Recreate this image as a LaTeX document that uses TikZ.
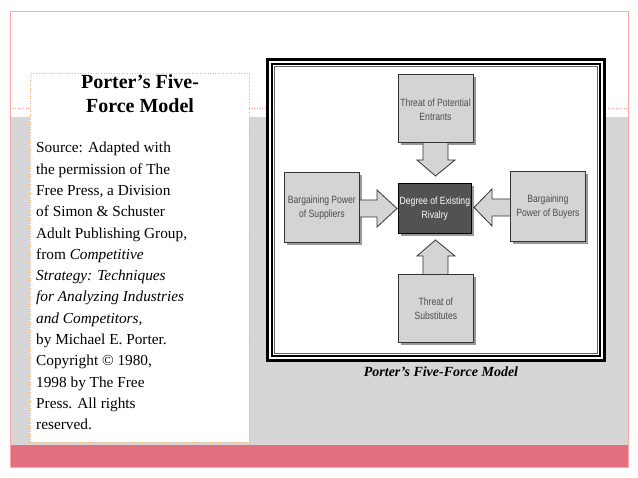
\documentclass[tikz,border=0pt]{standalone}
\usepackage{fontspec}
\setmainfont{Liberation Serif}
\newfontfamily\diagfont[FakeStretch=0.82]{Liberation Sans}
\definecolor{pinkbar}{RGB}{226,110,126}
\begin{document}
\begin{tikzpicture}[x=1pt,y=-1pt,
  fbox/.style={draw=black!80,fill=black!17,line width=0.8pt},
  shadowc/.style={fill=black!40},
  lbl/.style={font=\diagfont\fontsize{10.5}{14}\selectfont,text=black!70,align=center},
  body/.style={font=\fontsize{15.3}{21.3}\selectfont,align=left,anchor=north west,inner sep=0pt}]
\useasboundingbox (0,0) rectangle (638,478);
\fill[white] (0,0) rectangle (638,478);
% slide frame
\fill[black!16] (10,117) rectangle (628,445);
\fill[pinkbar] (10,445) rectangle (628,467);
\draw[red!35,line width=0.6pt] (10,11) rectangle (628,467);
\draw[red!40,dotted,line width=0.6pt] (10,108) -- (628,108);
% left text box
\node[draw=orange!60,dotted,fill=white,line width=0.6pt,minimum width=219pt,minimum height=369pt,anchor=north west,inner sep=0pt] (tb) at (30,73) {};
\node[font=\bfseries\fontsize{20}{24}\selectfont,align=center] (title) at (140,94) {Porter’s Five-\\Force Model};
\node[body] (src) at (36,142) {Source: Adapted with\\the permission of The\\Free Press, a Division\\of Simon \& Schuster\\Adult Publishing Group,\\from \emph{Competitive}\\\emph{Strategy: Techniques}\\\emph{for Analyzing Industries}\\\emph{and Competitors,}\\by Michael E. Porter.\\Copyright © 1980,\\1998 by The Free\\Press. All rights\\reserved.};
% diagram frame
\fill[white] (266,58) rectangle (606,362);
\draw[line width=3pt] (267.5,59.5) rectangle (604.5,360.5);
\draw[line width=1.2pt] (272,64) rectangle (600,356);
\draw[line width=0.5pt,black!60] (274.5,66.5) rectangle (597.5,353.5);
% shadows
\foreach \a/\b/\c/\d in {398/74/473/142, 284/172/359/242, 510/171/585/241, 398/274/473/342, 398/183/471/233}
  \fill[shadowc] (\a+3,\b+3) rectangle (\c+3,\d+3);
% arrows (drawn before boxes)
\draw[fbox] (423,141) -- (423,160) -- (417,160) -- (435.5,176) -- (455,160) -- (448,160) -- (448,141);
\draw[fbox] (423,275) -- (423,256) -- (417,256) -- (435.5,240) -- (455,256) -- (448,256) -- (448,275);
\draw[fbox] (358,200) -- (377,200) -- (377,190) -- (397,208.5) -- (377,227) -- (377,217) -- (358,217);
\draw[fbox] (511,199) -- (492,199) -- (492,189) -- (474,207.5) -- (492,226) -- (492,216) -- (511,216);
% boxes
\node[fbox,minimum width=75pt,minimum height=68pt,anchor=north west,inner sep=0pt] (top) at (398,74) {};
\node[lbl] (toplbl) at (435.5,110) {Threat of Potential\\Entrants};
\node[fbox,lbl,minimum width=75pt,minimum height=70pt,anchor=north west,inner sep=0pt] (sup) at (284,172) {Bargaining Power\\of Suppliers};
\node[fbox,lbl,minimum width=75pt,minimum height=70pt,anchor=north west,inner sep=0pt] (buy) at (510,171) {Bargaining\\Power of Buyers};
\node[fbox,lbl,minimum width=75pt,minimum height=68pt,anchor=north west,inner sep=0pt] (sub) at (398,274) {Threat of\\Substitutes};
\node[draw=black,fill=black!68,lbl,text=white,minimum width=73pt,minimum height=50pt,anchor=north west,inner sep=0pt,line width=0.8pt] (riv) at (398,183) {Degree of Existing\\Rivalry};
\node[font=\bfseries\itshape\fontsize{14}{16}\selectfont] (cap) at (441,372) {Porter’s Five-Force Model};
\end{tikzpicture}
\end{document}
